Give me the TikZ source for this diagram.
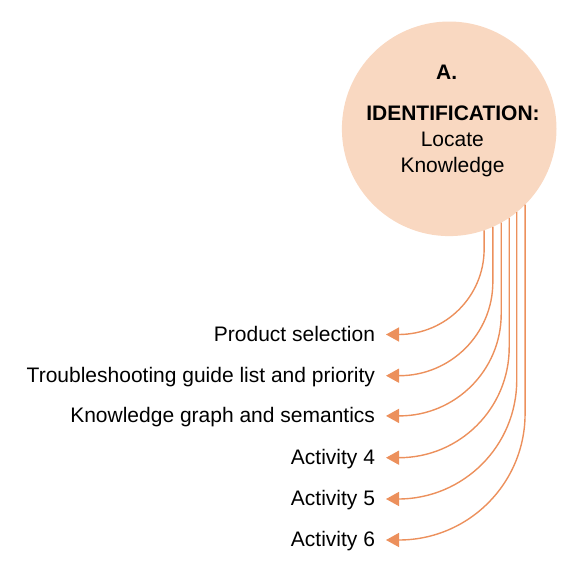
\documentclass[tikz,border=0pt]{standalone}
\usepackage{fontspec}
\setmainfont{Liberation Sans}
\usetikzlibrary{arrows.meta}
\definecolor{peach}{RGB}{249,216,193}
\definecolor{lineor}{RGB}{236,144,92}
\begin{document}
\begin{tikzpicture}[x=1pt,y=-1pt,
  txt/.style={font=\fontsize{21pt}{25.5pt}\selectfont, inner sep=0pt},
  lbl/.style={txt, anchor=base east, outer xsep=11pt},
  conn/.style={draw=lineor, line width=1.4pt, -{Triangle[length=13pt,width=14pt]}}]
\useasboundingbox (0,0) rectangle (584,576);
\node[circle, fill=peach, minimum size=214.6pt, inner sep=0pt, outer sep=0pt] (c) at (449.2,128.8) {};
\node[txt, anchor=base, font=\fontsize{21pt}{25.5pt}\selectfont\bfseries] (ta) at (446.7,79) {A.};
\node[txt, anchor=base, font=\fontsize{21pt}{25.5pt}\selectfont\bfseries] (tb) at (453,120.7) {IDENTIFICATION:};
\node[txt, anchor=base] (tc) at (452.3,146.5) {Locate};
\node[txt, anchor=base] (td) at (452.5,172) {Knowledge};
\node[lbl] (l1) at (386,341) {Product selection};
\node[lbl] (l2) at (386,382.2) {Troubleshooting guide list and priority};
\node[lbl] (l3) at (386,422.4) {Knowledge graph and semantics};
\node[lbl] (l4) at (386,464.2) {Activity 4};
\node[lbl] (l5) at (386,505.5) {Activity 5};
\node[lbl] (l6) at (386,546.5) {Activity 6};
\draw[conn, rounded corners=85.5pt] (c.-71.35) |- ([yshift=6.5pt]l1.base east);
\draw[conn, rounded corners=93.7pt] (c.-66.66) |- ([yshift=6.5pt]l2.base east);
\draw[conn, rounded corners=102pt] (c.-61.75) |- ([yshift=6.5pt]l3.base east);
\draw[conn, rounded corners=110.3pt] (c.-56.58) |- ([yshift=6.5pt]l4.base east);
\draw[conn, rounded corners=118.7pt] (c.-51.0) |- ([yshift=6.5pt]l5.base east);
\draw[conn, rounded corners=126.3pt] (c.-45.57) |- ([yshift=6.5pt]l6.base east);
\end{tikzpicture}
\end{document}
